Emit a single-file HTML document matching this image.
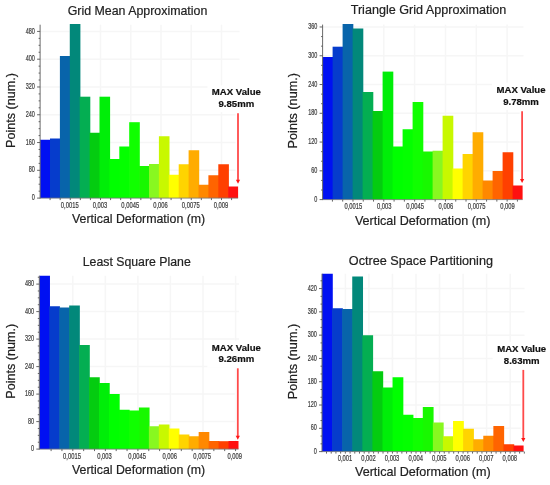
<!DOCTYPE html>
<html><head><meta charset="utf-8"><style>
html,body{margin:0;padding:0;background:#fff;width:550px;height:485px;overflow:hidden}
svg{display:block;filter:blur(0.35px)}
text{font-family:"Liberation Sans", sans-serif}
.gr{stroke:#f6f6f6;stroke-width:1.5}
.ax{stroke:#6a6a6a;stroke-width:1}
.tk{stroke:#555;stroke-width:0.9}
.tl{font-size:7.6px;fill:#333;stroke:#555;stroke-width:0.25}
.xt{font-size:8.3px}
.yt{font-size:8.2px}
.tt{font-size:12.2px;fill:#222;stroke:#222;stroke-width:0.2}
.xl{font-size:12.3px;fill:#222;stroke:#222;stroke-width:0.2}
.mv{font-size:9.6px;font-weight:bold;fill:#111;stroke:#111;stroke-width:0.2}
.ar{stroke:#ff4a4a;stroke-width:1.8}
</style></head><body>
<svg width="550" height="485" viewBox="0 0 550 485">
<line x1="40.1" y1="170.32" x2="239.5" y2="170.32" class="gr"/>
<line x1="40.1" y1="142.54" x2="239.5" y2="142.54" class="gr"/>
<line x1="40.1" y1="114.76" x2="239.5" y2="114.76" class="gr"/>
<line x1="40.1" y1="86.98" x2="239.5" y2="86.98" class="gr"/>
<line x1="40.1" y1="59.2" x2="239.5" y2="59.2" class="gr"/>
<line x1="40.1" y1="31.42" x2="239.5" y2="31.42" class="gr"/>
<line x1="70.25" y1="24.7" x2="70.25" y2="198.1" class="gr"/>
<line x1="100.5" y1="24.7" x2="100.5" y2="198.1" class="gr"/>
<line x1="130.75" y1="24.7" x2="130.75" y2="198.1" class="gr"/>
<line x1="161" y1="24.7" x2="161" y2="198.1" class="gr"/>
<line x1="191.25" y1="24.7" x2="191.25" y2="198.1" class="gr"/>
<line x1="221.5" y1="24.7" x2="221.5" y2="198.1" class="gr"/>
<rect x="207.4" y="85.3" width="34.1" height="26.8" fill="#fff"/>
<line x1="238" y1="112.3" x2="238" y2="183.8" stroke="#fff" stroke-width="5"/>
<rect x="40.1" y="139.75" width="10.6" height="58.35" fill="#0010f2"/>
<rect x="50" y="138.5" width="10.6" height="59.6" fill="#063ccc"/>
<rect x="59.9" y="56" width="10.6" height="142.1" fill="#0864aa"/>
<rect x="69.8" y="24" width="10.6" height="174.1" fill="#02887a"/>
<rect x="79.7" y="96.7" width="10.6" height="101.4" fill="#04ae52"/>
<rect x="89.6" y="132.75" width="10.6" height="65.35" fill="#04cc10"/>
<rect x="99.5" y="96.7" width="10.6" height="101.4" fill="#00ee08"/>
<rect x="109.4" y="159" width="10.6" height="39.1" fill="#00ff00"/>
<rect x="119.3" y="146.5" width="10.6" height="51.6" fill="#04ff00"/>
<rect x="129.2" y="122.2" width="10.6" height="75.9" fill="#10ff00"/>
<rect x="139.1" y="166" width="10.6" height="32.1" fill="#18f800"/>
<rect x="149" y="164" width="10.6" height="34.1" fill="#88f820"/>
<rect x="158.9" y="136.25" width="10.6" height="61.85" fill="#c8f800"/>
<rect x="168.8" y="174.75" width="10.6" height="23.35" fill="#ffff00"/>
<rect x="178.7" y="164.25" width="10.6" height="33.85" fill="#ffd400"/>
<rect x="188.6" y="150.25" width="10.6" height="47.85" fill="#ffac00"/>
<rect x="198.5" y="184.75" width="10.6" height="13.35" fill="#ff8800"/>
<rect x="208.4" y="175.25" width="10.6" height="22.85" fill="#ff6400"/>
<rect x="218.3" y="164.25" width="10.6" height="33.85" fill="#ff4000"/>
<rect x="228.2" y="186.5" width="9.9" height="11.6" fill="#ff1010"/>
<line x1="40.1" y1="198.1" x2="238.1" y2="198.1" stroke="#777" stroke-width="0.8"/>
<line x1="40.1" y1="24.7" x2="40.1" y2="198.6" class="ax"/>
<line x1="37.1" y1="198.1" x2="40.1" y2="198.1" class="tk"/>
<line x1="38.6" y1="191.16" x2="40.1" y2="191.16" class="tk"/>
<line x1="38.6" y1="184.21" x2="40.1" y2="184.21" class="tk"/>
<line x1="38.6" y1="177.26" x2="40.1" y2="177.26" class="tk"/>
<line x1="37.1" y1="170.32" x2="40.1" y2="170.32" class="tk"/>
<line x1="38.6" y1="163.38" x2="40.1" y2="163.38" class="tk"/>
<line x1="38.6" y1="156.43" x2="40.1" y2="156.43" class="tk"/>
<line x1="38.6" y1="149.48" x2="40.1" y2="149.48" class="tk"/>
<line x1="37.1" y1="142.54" x2="40.1" y2="142.54" class="tk"/>
<line x1="38.6" y1="135.59" x2="40.1" y2="135.59" class="tk"/>
<line x1="38.6" y1="128.65" x2="40.1" y2="128.65" class="tk"/>
<line x1="38.6" y1="121.7" x2="40.1" y2="121.7" class="tk"/>
<line x1="37.1" y1="114.76" x2="40.1" y2="114.76" class="tk"/>
<line x1="38.6" y1="107.81" x2="40.1" y2="107.81" class="tk"/>
<line x1="38.6" y1="100.87" x2="40.1" y2="100.87" class="tk"/>
<line x1="38.6" y1="93.92" x2="40.1" y2="93.92" class="tk"/>
<line x1="37.1" y1="86.98" x2="40.1" y2="86.98" class="tk"/>
<line x1="38.6" y1="80.03" x2="40.1" y2="80.03" class="tk"/>
<line x1="38.6" y1="73.09" x2="40.1" y2="73.09" class="tk"/>
<line x1="38.6" y1="66.14" x2="40.1" y2="66.14" class="tk"/>
<line x1="37.1" y1="59.2" x2="40.1" y2="59.2" class="tk"/>
<line x1="38.6" y1="52.25" x2="40.1" y2="52.25" class="tk"/>
<line x1="38.6" y1="45.31" x2="40.1" y2="45.31" class="tk"/>
<line x1="38.6" y1="38.36" x2="40.1" y2="38.36" class="tk"/>
<line x1="37.1" y1="31.42" x2="40.1" y2="31.42" class="tk"/>
<text x="34.9" y="200.2" class="tl yt" text-anchor="end" transform="translate(34.9 0) scale(0.67 1) translate(-34.9 0)">0</text>
<text x="34.9" y="172.42" class="tl yt" text-anchor="end" transform="translate(34.9 0) scale(0.67 1) translate(-34.9 0)">80</text>
<text x="34.9" y="144.64" class="tl yt" text-anchor="end" transform="translate(34.9 0) scale(0.67 1) translate(-34.9 0)">160</text>
<text x="34.9" y="116.86" class="tl yt" text-anchor="end" transform="translate(34.9 0) scale(0.67 1) translate(-34.9 0)">240</text>
<text x="34.9" y="89.08" class="tl yt" text-anchor="end" transform="translate(34.9 0) scale(0.67 1) translate(-34.9 0)">320</text>
<text x="34.9" y="61.3" class="tl yt" text-anchor="end" transform="translate(34.9 0) scale(0.67 1) translate(-34.9 0)">400</text>
<text x="34.9" y="33.52" class="tl yt" text-anchor="end" transform="translate(34.9 0) scale(0.67 1) translate(-34.9 0)">480</text>
<line x1="50.08" y1="198.1" x2="50.08" y2="200.1" class="tk"/>
<line x1="60.17" y1="198.1" x2="60.17" y2="200.1" class="tk"/>
<line x1="70.25" y1="198.1" x2="70.25" y2="200.1" class="tk"/>
<line x1="80.33" y1="198.1" x2="80.33" y2="200.1" class="tk"/>
<line x1="90.42" y1="198.1" x2="90.42" y2="200.1" class="tk"/>
<line x1="100.5" y1="198.1" x2="100.5" y2="200.1" class="tk"/>
<line x1="110.58" y1="198.1" x2="110.58" y2="200.1" class="tk"/>
<line x1="120.67" y1="198.1" x2="120.67" y2="200.1" class="tk"/>
<line x1="130.75" y1="198.1" x2="130.75" y2="200.1" class="tk"/>
<line x1="140.83" y1="198.1" x2="140.83" y2="200.1" class="tk"/>
<line x1="150.92" y1="198.1" x2="150.92" y2="200.1" class="tk"/>
<line x1="161" y1="198.1" x2="161" y2="200.1" class="tk"/>
<line x1="171.08" y1="198.1" x2="171.08" y2="200.1" class="tk"/>
<line x1="181.17" y1="198.1" x2="181.17" y2="200.1" class="tk"/>
<line x1="191.25" y1="198.1" x2="191.25" y2="200.1" class="tk"/>
<line x1="201.33" y1="198.1" x2="201.33" y2="200.1" class="tk"/>
<line x1="211.42" y1="198.1" x2="211.42" y2="200.1" class="tk"/>
<line x1="221.5" y1="198.1" x2="221.5" y2="200.1" class="tk"/>
<line x1="231.58" y1="198.1" x2="231.58" y2="200.1" class="tk"/>
<text x="69.75" y="207.6" class="tl xt" text-anchor="middle" transform="translate(69.75 0) scale(0.7 1) translate(-69.75 0)">0,0015</text>
<text x="100" y="207.6" class="tl xt" text-anchor="middle" transform="translate(100 0) scale(0.7 1) translate(-100 0)">0,003</text>
<text x="130.25" y="207.6" class="tl xt" text-anchor="middle" transform="translate(130.25 0) scale(0.7 1) translate(-130.25 0)">0,0045</text>
<text x="160.5" y="207.6" class="tl xt" text-anchor="middle" transform="translate(160.5 0) scale(0.7 1) translate(-160.5 0)">0,006</text>
<text x="190.75" y="207.6" class="tl xt" text-anchor="middle" transform="translate(190.75 0) scale(0.7 1) translate(-190.75 0)">0,0075</text>
<text x="221" y="207.6" class="tl xt" text-anchor="middle" transform="translate(221 0) scale(0.7 1) translate(-221 0)">0,009</text>
<text x="137.5" y="15" class="tt" text-anchor="middle" style="font-size:12.38px">Grid Mean Approximation</text>
<text x="138.6" y="223" class="xl" text-anchor="middle" style="font-size:12.37px">Vertical Deformation (m)</text>
<text x="0" y="0" class="xl" text-anchor="middle" style="font-size:12.6px" transform="translate(14.85 110.5) rotate(-90)">Points (num.)</text>
<text x="236.4" y="95.3" class="mv" text-anchor="middle">MAX Value</text>
<text x="236.4" y="106.9" class="mv" text-anchor="middle">9.85mm</text>
<line x1="238" y1="113.3" x2="238" y2="180.8" class="ar"/>
<path d="M235.9 179.8L240.1 179.8L238 183.8Z" fill="#ff1414"/>
<line x1="322.6" y1="170.83" x2="523.5" y2="170.83" class="gr"/>
<line x1="322.6" y1="142.06" x2="523.5" y2="142.06" class="gr"/>
<line x1="322.6" y1="113.29" x2="523.5" y2="113.29" class="gr"/>
<line x1="322.6" y1="84.52" x2="523.5" y2="84.52" class="gr"/>
<line x1="322.6" y1="55.75" x2="523.5" y2="55.75" class="gr"/>
<line x1="322.6" y1="26.98" x2="523.5" y2="26.98" class="gr"/>
<line x1="352.98" y1="24.6" x2="352.98" y2="199.6" class="gr"/>
<line x1="383.81" y1="24.6" x2="383.81" y2="199.6" class="gr"/>
<line x1="414.64" y1="24.6" x2="414.64" y2="199.6" class="gr"/>
<line x1="445.47" y1="24.6" x2="445.47" y2="199.6" class="gr"/>
<line x1="476.3" y1="24.6" x2="476.3" y2="199.6" class="gr"/>
<line x1="507.13" y1="24.6" x2="507.13" y2="199.6" class="gr"/>
<rect x="492" y="82.6" width="33.5" height="27.3" fill="#fff"/>
<line x1="522.1" y1="110.3" x2="522.1" y2="182.9" stroke="#fff" stroke-width="5"/>
<rect x="322.6" y="57" width="10.7" height="142.6" fill="#0010f2"/>
<rect x="332.6" y="46.7" width="10.7" height="152.9" fill="#063ccc"/>
<rect x="342.6" y="24" width="10.7" height="175.6" fill="#0864aa"/>
<rect x="352.6" y="28.5" width="10.7" height="171.1" fill="#02887a"/>
<rect x="362.6" y="92" width="10.7" height="107.6" fill="#04ae52"/>
<rect x="372.6" y="111" width="10.7" height="88.6" fill="#04cc10"/>
<rect x="382.6" y="71.6" width="10.7" height="128" fill="#00ee08"/>
<rect x="392.6" y="146.5" width="10.7" height="53.1" fill="#00ff00"/>
<rect x="402.6" y="129.25" width="10.7" height="70.35" fill="#04ff00"/>
<rect x="412.6" y="102" width="10.7" height="97.6" fill="#10ff00"/>
<rect x="422.6" y="151.5" width="10.7" height="48.1" fill="#18f800"/>
<rect x="432.6" y="150.75" width="10.7" height="48.85" fill="#88f820"/>
<rect x="442.6" y="115.75" width="10.7" height="83.85" fill="#c8f800"/>
<rect x="452.6" y="168.5" width="10.7" height="31.1" fill="#ffff00"/>
<rect x="462.6" y="154" width="10.7" height="45.6" fill="#ffd400"/>
<rect x="472.6" y="132.25" width="10.7" height="67.35" fill="#ffac00"/>
<rect x="482.6" y="180.5" width="10.7" height="19.1" fill="#ff8800"/>
<rect x="492.6" y="171" width="10.7" height="28.6" fill="#ff6400"/>
<rect x="502.6" y="152.25" width="10.7" height="47.35" fill="#ff4000"/>
<rect x="512.6" y="185.5" width="10" height="14.1" fill="#ff1010"/>
<line x1="322.6" y1="199.6" x2="522.6" y2="199.6" stroke="#777" stroke-width="0.8"/>
<line x1="322.6" y1="24.6" x2="322.6" y2="200.1" class="ax"/>
<line x1="319.6" y1="199.6" x2="322.6" y2="199.6" class="tk"/>
<line x1="321.1" y1="190.01" x2="322.6" y2="190.01" class="tk"/>
<line x1="321.1" y1="180.42" x2="322.6" y2="180.42" class="tk"/>
<line x1="319.6" y1="170.83" x2="322.6" y2="170.83" class="tk"/>
<line x1="321.1" y1="161.24" x2="322.6" y2="161.24" class="tk"/>
<line x1="321.1" y1="151.65" x2="322.6" y2="151.65" class="tk"/>
<line x1="319.6" y1="142.06" x2="322.6" y2="142.06" class="tk"/>
<line x1="321.1" y1="132.47" x2="322.6" y2="132.47" class="tk"/>
<line x1="321.1" y1="122.88" x2="322.6" y2="122.88" class="tk"/>
<line x1="319.6" y1="113.29" x2="322.6" y2="113.29" class="tk"/>
<line x1="321.1" y1="103.7" x2="322.6" y2="103.7" class="tk"/>
<line x1="321.1" y1="94.11" x2="322.6" y2="94.11" class="tk"/>
<line x1="319.6" y1="84.52" x2="322.6" y2="84.52" class="tk"/>
<line x1="321.1" y1="74.93" x2="322.6" y2="74.93" class="tk"/>
<line x1="321.1" y1="65.34" x2="322.6" y2="65.34" class="tk"/>
<line x1="319.6" y1="55.75" x2="322.6" y2="55.75" class="tk"/>
<line x1="321.1" y1="46.16" x2="322.6" y2="46.16" class="tk"/>
<line x1="321.1" y1="36.57" x2="322.6" y2="36.57" class="tk"/>
<line x1="319.6" y1="26.98" x2="322.6" y2="26.98" class="tk"/>
<text x="317.4" y="201.7" class="tl yt" text-anchor="end" transform="translate(317.4 0) scale(0.67 1) translate(-317.4 0)">0</text>
<text x="317.4" y="172.93" class="tl yt" text-anchor="end" transform="translate(317.4 0) scale(0.67 1) translate(-317.4 0)">60</text>
<text x="317.4" y="144.16" class="tl yt" text-anchor="end" transform="translate(317.4 0) scale(0.67 1) translate(-317.4 0)">120</text>
<text x="317.4" y="115.39" class="tl yt" text-anchor="end" transform="translate(317.4 0) scale(0.67 1) translate(-317.4 0)">180</text>
<text x="317.4" y="86.62" class="tl yt" text-anchor="end" transform="translate(317.4 0) scale(0.67 1) translate(-317.4 0)">240</text>
<text x="317.4" y="57.85" class="tl yt" text-anchor="end" transform="translate(317.4 0) scale(0.67 1) translate(-317.4 0)">300</text>
<text x="317.4" y="29.08" class="tl yt" text-anchor="end" transform="translate(317.4 0) scale(0.67 1) translate(-317.4 0)">360</text>
<line x1="332.43" y1="199.6" x2="332.43" y2="201.6" class="tk"/>
<line x1="342.7" y1="199.6" x2="342.7" y2="201.6" class="tk"/>
<line x1="352.98" y1="199.6" x2="352.98" y2="201.6" class="tk"/>
<line x1="363.26" y1="199.6" x2="363.26" y2="201.6" class="tk"/>
<line x1="373.53" y1="199.6" x2="373.53" y2="201.6" class="tk"/>
<line x1="383.81" y1="199.6" x2="383.81" y2="201.6" class="tk"/>
<line x1="394.09" y1="199.6" x2="394.09" y2="201.6" class="tk"/>
<line x1="404.36" y1="199.6" x2="404.36" y2="201.6" class="tk"/>
<line x1="414.64" y1="199.6" x2="414.64" y2="201.6" class="tk"/>
<line x1="424.92" y1="199.6" x2="424.92" y2="201.6" class="tk"/>
<line x1="435.19" y1="199.6" x2="435.19" y2="201.6" class="tk"/>
<line x1="445.47" y1="199.6" x2="445.47" y2="201.6" class="tk"/>
<line x1="455.75" y1="199.6" x2="455.75" y2="201.6" class="tk"/>
<line x1="466.02" y1="199.6" x2="466.02" y2="201.6" class="tk"/>
<line x1="476.3" y1="199.6" x2="476.3" y2="201.6" class="tk"/>
<line x1="486.58" y1="199.6" x2="486.58" y2="201.6" class="tk"/>
<line x1="496.85" y1="199.6" x2="496.85" y2="201.6" class="tk"/>
<line x1="507.13" y1="199.6" x2="507.13" y2="201.6" class="tk"/>
<line x1="517.41" y1="199.6" x2="517.41" y2="201.6" class="tk"/>
<text x="353.38" y="209.5" class="tl xt" text-anchor="middle" transform="translate(353.38 0) scale(0.7 1) translate(-353.38 0)">0,0015</text>
<text x="384.21" y="209.5" class="tl xt" text-anchor="middle" transform="translate(384.21 0) scale(0.7 1) translate(-384.21 0)">0,003</text>
<text x="415.04" y="209.5" class="tl xt" text-anchor="middle" transform="translate(415.04 0) scale(0.7 1) translate(-415.04 0)">0,0045</text>
<text x="445.87" y="209.5" class="tl xt" text-anchor="middle" transform="translate(445.87 0) scale(0.7 1) translate(-445.87 0)">0,006</text>
<text x="476.7" y="209.5" class="tl xt" text-anchor="middle" transform="translate(476.7 0) scale(0.7 1) translate(-476.7 0)">0,0075</text>
<text x="507.53" y="209.5" class="tl xt" text-anchor="middle" transform="translate(507.53 0) scale(0.7 1) translate(-507.53 0)">0,009</text>
<text x="428.5" y="14" class="tt" text-anchor="middle" style="font-size:12.6px">Triangle Grid Approximation</text>
<text x="422.7" y="225" class="xl" text-anchor="middle" style="font-size:12.58px">Vertical Deformation (m)</text>
<text x="0" y="0" class="xl" text-anchor="middle" style="font-size:12.7px" transform="translate(296.7 110.7) rotate(-90)">Points (num.)</text>
<text x="521" y="92.6" class="mv" text-anchor="middle">MAX Value</text>
<text x="521" y="104.7" class="mv" text-anchor="middle">9.78mm</text>
<line x1="522.1" y1="111.3" x2="522.1" y2="179.9" class="ar"/>
<path d="M520 178.9L524.2 178.9L522.1 182.9Z" fill="#ff1414"/>
<line x1="39.3" y1="421.6" x2="239" y2="421.6" class="gr"/>
<line x1="39.3" y1="394.1" x2="239" y2="394.1" class="gr"/>
<line x1="39.3" y1="366.6" x2="239" y2="366.6" class="gr"/>
<line x1="39.3" y1="339.1" x2="239" y2="339.1" class="gr"/>
<line x1="39.3" y1="311.6" x2="239" y2="311.6" class="gr"/>
<line x1="39.3" y1="284.1" x2="239" y2="284.1" class="gr"/>
<line x1="72.8" y1="275.75" x2="72.8" y2="449.1" class="gr"/>
<line x1="105.35" y1="275.75" x2="105.35" y2="449.1" class="gr"/>
<line x1="137.9" y1="275.75" x2="137.9" y2="449.1" class="gr"/>
<line x1="170.45" y1="275.75" x2="170.45" y2="449.1" class="gr"/>
<line x1="203" y1="275.75" x2="203" y2="449.1" class="gr"/>
<line x1="235.55" y1="275.75" x2="235.55" y2="449.1" class="gr"/>
<rect x="207.4" y="340.7" width="33.6" height="26.7" fill="#fff"/>
<line x1="237.8" y1="367.3" x2="237.8" y2="439.7" stroke="#fff" stroke-width="5"/>
<rect x="39.3" y="275.75" width="10.66" height="173.35" fill="#0010f2"/>
<rect x="49.26" y="306.25" width="10.66" height="142.85" fill="#063ccc"/>
<rect x="59.22" y="307.5" width="10.66" height="141.6" fill="#0864aa"/>
<rect x="69.18" y="305.5" width="10.66" height="143.6" fill="#02887a"/>
<rect x="79.14" y="345" width="10.66" height="104.1" fill="#04ae52"/>
<rect x="89.1" y="377.25" width="10.66" height="71.85" fill="#04cc10"/>
<rect x="99.06" y="383" width="10.66" height="66.1" fill="#00ee08"/>
<rect x="109.02" y="394" width="10.66" height="55.1" fill="#00ff00"/>
<rect x="118.98" y="409.75" width="10.66" height="39.35" fill="#04ff00"/>
<rect x="128.94" y="410.5" width="10.66" height="38.6" fill="#10ff00"/>
<rect x="138.9" y="407.5" width="10.66" height="41.6" fill="#18f800"/>
<rect x="148.86" y="426.25" width="10.66" height="22.85" fill="#88f820"/>
<rect x="158.82" y="424.5" width="10.66" height="24.6" fill="#c8f800"/>
<rect x="168.78" y="428.5" width="10.66" height="20.6" fill="#ffff00"/>
<rect x="178.74" y="434.5" width="10.66" height="14.6" fill="#ffd400"/>
<rect x="188.7" y="436.25" width="10.66" height="12.85" fill="#ffac00"/>
<rect x="198.66" y="432" width="10.66" height="17.1" fill="#ff8800"/>
<rect x="208.62" y="441" width="10.66" height="8.1" fill="#ff6400"/>
<rect x="218.58" y="441.2" width="10.66" height="7.9" fill="#ff4000"/>
<rect x="228.54" y="441" width="9.96" height="8.1" fill="#ff1010"/>
<line x1="39.3" y1="449.1" x2="238.5" y2="449.1" stroke="#777" stroke-width="0.8"/>
<line x1="39.3" y1="275.75" x2="39.3" y2="449.6" class="ax"/>
<line x1="36.3" y1="449.1" x2="39.3" y2="449.1" class="tk"/>
<line x1="37.8" y1="442.23" x2="39.3" y2="442.23" class="tk"/>
<line x1="37.8" y1="435.35" x2="39.3" y2="435.35" class="tk"/>
<line x1="37.8" y1="428.48" x2="39.3" y2="428.48" class="tk"/>
<line x1="36.3" y1="421.6" x2="39.3" y2="421.6" class="tk"/>
<line x1="37.8" y1="414.73" x2="39.3" y2="414.73" class="tk"/>
<line x1="37.8" y1="407.85" x2="39.3" y2="407.85" class="tk"/>
<line x1="37.8" y1="400.98" x2="39.3" y2="400.98" class="tk"/>
<line x1="36.3" y1="394.1" x2="39.3" y2="394.1" class="tk"/>
<line x1="37.8" y1="387.23" x2="39.3" y2="387.23" class="tk"/>
<line x1="37.8" y1="380.35" x2="39.3" y2="380.35" class="tk"/>
<line x1="37.8" y1="373.48" x2="39.3" y2="373.48" class="tk"/>
<line x1="36.3" y1="366.6" x2="39.3" y2="366.6" class="tk"/>
<line x1="37.8" y1="359.73" x2="39.3" y2="359.73" class="tk"/>
<line x1="37.8" y1="352.85" x2="39.3" y2="352.85" class="tk"/>
<line x1="37.8" y1="345.98" x2="39.3" y2="345.98" class="tk"/>
<line x1="36.3" y1="339.1" x2="39.3" y2="339.1" class="tk"/>
<line x1="37.8" y1="332.23" x2="39.3" y2="332.23" class="tk"/>
<line x1="37.8" y1="325.35" x2="39.3" y2="325.35" class="tk"/>
<line x1="37.8" y1="318.48" x2="39.3" y2="318.48" class="tk"/>
<line x1="36.3" y1="311.6" x2="39.3" y2="311.6" class="tk"/>
<line x1="37.8" y1="304.73" x2="39.3" y2="304.73" class="tk"/>
<line x1="37.8" y1="297.85" x2="39.3" y2="297.85" class="tk"/>
<line x1="37.8" y1="290.98" x2="39.3" y2="290.98" class="tk"/>
<line x1="36.3" y1="284.1" x2="39.3" y2="284.1" class="tk"/>
<line x1="37.8" y1="277.23" x2="39.3" y2="277.23" class="tk"/>
<text x="34.1" y="451.2" class="tl yt" text-anchor="end" transform="translate(34.1 0) scale(0.67 1) translate(-34.1 0)">0</text>
<text x="34.1" y="423.7" class="tl yt" text-anchor="end" transform="translate(34.1 0) scale(0.67 1) translate(-34.1 0)">80</text>
<text x="34.1" y="396.2" class="tl yt" text-anchor="end" transform="translate(34.1 0) scale(0.67 1) translate(-34.1 0)">160</text>
<text x="34.1" y="368.7" class="tl yt" text-anchor="end" transform="translate(34.1 0) scale(0.67 1) translate(-34.1 0)">240</text>
<text x="34.1" y="341.2" class="tl yt" text-anchor="end" transform="translate(34.1 0) scale(0.67 1) translate(-34.1 0)">320</text>
<text x="34.1" y="313.7" class="tl yt" text-anchor="end" transform="translate(34.1 0) scale(0.67 1) translate(-34.1 0)">400</text>
<text x="34.1" y="286.2" class="tl yt" text-anchor="end" transform="translate(34.1 0) scale(0.67 1) translate(-34.1 0)">480</text>
<line x1="51.1" y1="449.1" x2="51.1" y2="451.1" class="tk"/>
<line x1="61.95" y1="449.1" x2="61.95" y2="451.1" class="tk"/>
<line x1="72.8" y1="449.1" x2="72.8" y2="451.1" class="tk"/>
<line x1="83.65" y1="449.1" x2="83.65" y2="451.1" class="tk"/>
<line x1="94.5" y1="449.1" x2="94.5" y2="451.1" class="tk"/>
<line x1="105.35" y1="449.1" x2="105.35" y2="451.1" class="tk"/>
<line x1="116.2" y1="449.1" x2="116.2" y2="451.1" class="tk"/>
<line x1="127.05" y1="449.1" x2="127.05" y2="451.1" class="tk"/>
<line x1="137.9" y1="449.1" x2="137.9" y2="451.1" class="tk"/>
<line x1="148.75" y1="449.1" x2="148.75" y2="451.1" class="tk"/>
<line x1="159.6" y1="449.1" x2="159.6" y2="451.1" class="tk"/>
<line x1="170.45" y1="449.1" x2="170.45" y2="451.1" class="tk"/>
<line x1="181.3" y1="449.1" x2="181.3" y2="451.1" class="tk"/>
<line x1="192.15" y1="449.1" x2="192.15" y2="451.1" class="tk"/>
<line x1="203" y1="449.1" x2="203" y2="451.1" class="tk"/>
<line x1="213.85" y1="449.1" x2="213.85" y2="451.1" class="tk"/>
<line x1="224.7" y1="449.1" x2="224.7" y2="451.1" class="tk"/>
<line x1="235.55" y1="449.1" x2="235.55" y2="451.1" class="tk"/>
<text x="72" y="459" class="tl xt" text-anchor="middle" transform="translate(72 0) scale(0.7 1) translate(-72 0)">0,0015</text>
<text x="104.55" y="459" class="tl xt" text-anchor="middle" transform="translate(104.55 0) scale(0.7 1) translate(-104.55 0)">0,003</text>
<text x="137.1" y="459" class="tl xt" text-anchor="middle" transform="translate(137.1 0) scale(0.7 1) translate(-137.1 0)">0,0045</text>
<text x="169.65" y="459" class="tl xt" text-anchor="middle" transform="translate(169.65 0) scale(0.7 1) translate(-169.65 0)">0,006</text>
<text x="202.2" y="459" class="tl xt" text-anchor="middle" transform="translate(202.2 0) scale(0.7 1) translate(-202.2 0)">0,0075</text>
<text x="234.75" y="459" class="tl xt" text-anchor="middle" transform="translate(234.75 0) scale(0.7 1) translate(-234.75 0)">0,009</text>
<text x="136.75" y="265.7" class="tt" text-anchor="middle" style="font-size:12.3px">Least Square Plane</text>
<text x="138.6" y="473.7" class="xl" text-anchor="middle" style="font-size:12.37px">Vertical Deformation (m)</text>
<text x="0" y="0" class="xl" text-anchor="middle" style="font-size:12.6px" transform="translate(14.85 361.2) rotate(-90)">Points (num.)</text>
<text x="236.4" y="350.7" class="mv" text-anchor="middle">MAX Value</text>
<text x="236.4" y="362.2" class="mv" text-anchor="middle">9.26mm</text>
<line x1="237.8" y1="368.3" x2="237.8" y2="436.7" class="ar"/>
<path d="M235.7 435.7L239.9 435.7L237.8 439.7Z" fill="#ff1414"/>
<line x1="322" y1="428.31" x2="524.5" y2="428.31" class="gr"/>
<line x1="322" y1="405.02" x2="524.5" y2="405.02" class="gr"/>
<line x1="322" y1="381.73" x2="524.5" y2="381.73" class="gr"/>
<line x1="322" y1="358.44" x2="524.5" y2="358.44" class="gr"/>
<line x1="322" y1="335.15" x2="524.5" y2="335.15" class="gr"/>
<line x1="322" y1="311.86" x2="524.5" y2="311.86" class="gr"/>
<line x1="322" y1="288.57" x2="524.5" y2="288.57" class="gr"/>
<line x1="345.35" y1="273.75" x2="345.35" y2="451.6" class="gr"/>
<line x1="368.9" y1="273.75" x2="368.9" y2="451.6" class="gr"/>
<line x1="392.45" y1="273.75" x2="392.45" y2="451.6" class="gr"/>
<line x1="416" y1="273.75" x2="416" y2="451.6" class="gr"/>
<line x1="439.55" y1="273.75" x2="439.55" y2="451.6" class="gr"/>
<line x1="463.1" y1="273.75" x2="463.1" y2="451.6" class="gr"/>
<line x1="486.65" y1="273.75" x2="486.65" y2="451.6" class="gr"/>
<line x1="510.2" y1="273.75" x2="510.2" y2="451.6" class="gr"/>
<rect x="492.7" y="341.9" width="33.8" height="26.9" fill="#fff"/>
<line x1="523.3" y1="368.9" x2="523.3" y2="442" stroke="#fff" stroke-width="5"/>
<rect x="322" y="273.75" width="10.78" height="177.85" fill="#0010f2"/>
<rect x="332.08" y="308.25" width="10.78" height="143.35" fill="#063ccc"/>
<rect x="342.16" y="309" width="10.78" height="142.6" fill="#0864aa"/>
<rect x="352.24" y="276.5" width="10.78" height="175.1" fill="#02887a"/>
<rect x="362.32" y="335.25" width="10.78" height="116.35" fill="#04ae52"/>
<rect x="372.4" y="371.25" width="10.78" height="80.35" fill="#04cc10"/>
<rect x="382.48" y="387.5" width="10.78" height="64.1" fill="#00ee08"/>
<rect x="392.56" y="377.25" width="10.78" height="74.35" fill="#00ff00"/>
<rect x="402.64" y="414.75" width="10.78" height="36.85" fill="#04ff00"/>
<rect x="412.72" y="418" width="10.78" height="33.6" fill="#10ff00"/>
<rect x="422.8" y="407" width="10.78" height="44.6" fill="#18f800"/>
<rect x="432.88" y="422.5" width="10.78" height="29.1" fill="#88f820"/>
<rect x="442.96" y="436.25" width="10.78" height="15.35" fill="#c8f800"/>
<rect x="453.04" y="421" width="10.78" height="30.6" fill="#ffff00"/>
<rect x="463.12" y="428.75" width="10.78" height="22.85" fill="#ffd400"/>
<rect x="473.2" y="439.25" width="10.78" height="12.35" fill="#ffac00"/>
<rect x="483.28" y="435.75" width="10.78" height="15.85" fill="#ff8800"/>
<rect x="493.36" y="426" width="10.78" height="25.6" fill="#ff6400"/>
<rect x="503.44" y="444.25" width="10.78" height="7.35" fill="#ff4000"/>
<rect x="513.52" y="445.5" width="10.08" height="6.1" fill="#ff1010"/>
<line x1="322" y1="451.6" x2="523.6" y2="451.6" stroke="#777" stroke-width="0.8"/>
<line x1="322" y1="273.75" x2="322" y2="452.1" class="ax"/>
<line x1="319" y1="451.6" x2="322" y2="451.6" class="tk"/>
<line x1="320.5" y1="443.84" x2="322" y2="443.84" class="tk"/>
<line x1="320.5" y1="436.07" x2="322" y2="436.07" class="tk"/>
<line x1="319" y1="428.31" x2="322" y2="428.31" class="tk"/>
<line x1="320.5" y1="420.55" x2="322" y2="420.55" class="tk"/>
<line x1="320.5" y1="412.78" x2="322" y2="412.78" class="tk"/>
<line x1="319" y1="405.02" x2="322" y2="405.02" class="tk"/>
<line x1="320.5" y1="397.26" x2="322" y2="397.26" class="tk"/>
<line x1="320.5" y1="389.49" x2="322" y2="389.49" class="tk"/>
<line x1="319" y1="381.73" x2="322" y2="381.73" class="tk"/>
<line x1="320.5" y1="373.97" x2="322" y2="373.97" class="tk"/>
<line x1="320.5" y1="366.2" x2="322" y2="366.2" class="tk"/>
<line x1="319" y1="358.44" x2="322" y2="358.44" class="tk"/>
<line x1="320.5" y1="350.68" x2="322" y2="350.68" class="tk"/>
<line x1="320.5" y1="342.91" x2="322" y2="342.91" class="tk"/>
<line x1="319" y1="335.15" x2="322" y2="335.15" class="tk"/>
<line x1="320.5" y1="327.39" x2="322" y2="327.39" class="tk"/>
<line x1="320.5" y1="319.62" x2="322" y2="319.62" class="tk"/>
<line x1="319" y1="311.86" x2="322" y2="311.86" class="tk"/>
<line x1="320.5" y1="304.1" x2="322" y2="304.1" class="tk"/>
<line x1="320.5" y1="296.33" x2="322" y2="296.33" class="tk"/>
<line x1="319" y1="288.57" x2="322" y2="288.57" class="tk"/>
<line x1="320.5" y1="280.81" x2="322" y2="280.81" class="tk"/>
<text x="316.8" y="453.7" class="tl yt" text-anchor="end" transform="translate(316.8 0) scale(0.67 1) translate(-316.8 0)">0</text>
<text x="316.8" y="430.41" class="tl yt" text-anchor="end" transform="translate(316.8 0) scale(0.67 1) translate(-316.8 0)">60</text>
<text x="316.8" y="407.12" class="tl yt" text-anchor="end" transform="translate(316.8 0) scale(0.67 1) translate(-316.8 0)">120</text>
<text x="316.8" y="383.83" class="tl yt" text-anchor="end" transform="translate(316.8 0) scale(0.67 1) translate(-316.8 0)">180</text>
<text x="316.8" y="360.54" class="tl yt" text-anchor="end" transform="translate(316.8 0) scale(0.67 1) translate(-316.8 0)">240</text>
<text x="316.8" y="337.25" class="tl yt" text-anchor="end" transform="translate(316.8 0) scale(0.67 1) translate(-316.8 0)">300</text>
<text x="316.8" y="313.96" class="tl yt" text-anchor="end" transform="translate(316.8 0) scale(0.67 1) translate(-316.8 0)">360</text>
<text x="316.8" y="290.67" class="tl yt" text-anchor="end" transform="translate(316.8 0) scale(0.67 1) translate(-316.8 0)">420</text>
<line x1="326.51" y1="451.6" x2="326.51" y2="453.6" class="tk"/>
<line x1="331.22" y1="451.6" x2="331.22" y2="453.6" class="tk"/>
<line x1="335.93" y1="451.6" x2="335.93" y2="453.6" class="tk"/>
<line x1="340.64" y1="451.6" x2="340.64" y2="453.6" class="tk"/>
<line x1="345.35" y1="451.6" x2="345.35" y2="453.6" class="tk"/>
<line x1="350.06" y1="451.6" x2="350.06" y2="453.6" class="tk"/>
<line x1="354.77" y1="451.6" x2="354.77" y2="453.6" class="tk"/>
<line x1="359.48" y1="451.6" x2="359.48" y2="453.6" class="tk"/>
<line x1="364.19" y1="451.6" x2="364.19" y2="453.6" class="tk"/>
<line x1="368.9" y1="451.6" x2="368.9" y2="453.6" class="tk"/>
<line x1="373.61" y1="451.6" x2="373.61" y2="453.6" class="tk"/>
<line x1="378.32" y1="451.6" x2="378.32" y2="453.6" class="tk"/>
<line x1="383.03" y1="451.6" x2="383.03" y2="453.6" class="tk"/>
<line x1="387.74" y1="451.6" x2="387.74" y2="453.6" class="tk"/>
<line x1="392.45" y1="451.6" x2="392.45" y2="453.6" class="tk"/>
<line x1="397.16" y1="451.6" x2="397.16" y2="453.6" class="tk"/>
<line x1="401.87" y1="451.6" x2="401.87" y2="453.6" class="tk"/>
<line x1="406.58" y1="451.6" x2="406.58" y2="453.6" class="tk"/>
<line x1="411.29" y1="451.6" x2="411.29" y2="453.6" class="tk"/>
<line x1="416" y1="451.6" x2="416" y2="453.6" class="tk"/>
<line x1="420.71" y1="451.6" x2="420.71" y2="453.6" class="tk"/>
<line x1="425.42" y1="451.6" x2="425.42" y2="453.6" class="tk"/>
<line x1="430.13" y1="451.6" x2="430.13" y2="453.6" class="tk"/>
<line x1="434.84" y1="451.6" x2="434.84" y2="453.6" class="tk"/>
<line x1="439.55" y1="451.6" x2="439.55" y2="453.6" class="tk"/>
<line x1="444.26" y1="451.6" x2="444.26" y2="453.6" class="tk"/>
<line x1="448.97" y1="451.6" x2="448.97" y2="453.6" class="tk"/>
<line x1="453.68" y1="451.6" x2="453.68" y2="453.6" class="tk"/>
<line x1="458.39" y1="451.6" x2="458.39" y2="453.6" class="tk"/>
<line x1="463.1" y1="451.6" x2="463.1" y2="453.6" class="tk"/>
<line x1="467.81" y1="451.6" x2="467.81" y2="453.6" class="tk"/>
<line x1="472.52" y1="451.6" x2="472.52" y2="453.6" class="tk"/>
<line x1="477.23" y1="451.6" x2="477.23" y2="453.6" class="tk"/>
<line x1="481.94" y1="451.6" x2="481.94" y2="453.6" class="tk"/>
<line x1="486.65" y1="451.6" x2="486.65" y2="453.6" class="tk"/>
<line x1="491.36" y1="451.6" x2="491.36" y2="453.6" class="tk"/>
<line x1="496.07" y1="451.6" x2="496.07" y2="453.6" class="tk"/>
<line x1="500.78" y1="451.6" x2="500.78" y2="453.6" class="tk"/>
<line x1="505.49" y1="451.6" x2="505.49" y2="453.6" class="tk"/>
<line x1="510.2" y1="451.6" x2="510.2" y2="453.6" class="tk"/>
<line x1="514.91" y1="451.6" x2="514.91" y2="453.6" class="tk"/>
<line x1="519.62" y1="451.6" x2="519.62" y2="453.6" class="tk"/>
<line x1="524.33" y1="451.6" x2="524.33" y2="453.6" class="tk"/>
<text x="345" y="461.2" class="tl xt" text-anchor="middle" transform="translate(345 0) scale(0.7 1) translate(-345 0)">0,001</text>
<text x="368.55" y="461.2" class="tl xt" text-anchor="middle" transform="translate(368.55 0) scale(0.7 1) translate(-368.55 0)">0,002</text>
<text x="392.1" y="461.2" class="tl xt" text-anchor="middle" transform="translate(392.1 0) scale(0.7 1) translate(-392.1 0)">0,003</text>
<text x="415.65" y="461.2" class="tl xt" text-anchor="middle" transform="translate(415.65 0) scale(0.7 1) translate(-415.65 0)">0,004</text>
<text x="439.2" y="461.2" class="tl xt" text-anchor="middle" transform="translate(439.2 0) scale(0.7 1) translate(-439.2 0)">0,005</text>
<text x="462.75" y="461.2" class="tl xt" text-anchor="middle" transform="translate(462.75 0) scale(0.7 1) translate(-462.75 0)">0,006</text>
<text x="486.3" y="461.2" class="tl xt" text-anchor="middle" transform="translate(486.3 0) scale(0.7 1) translate(-486.3 0)">0,007</text>
<text x="509.85" y="461.2" class="tl xt" text-anchor="middle" transform="translate(509.85 0) scale(0.7 1) translate(-509.85 0)">0,008</text>
<text x="420.9" y="264.5" class="tt" text-anchor="middle" style="font-size:12.67px">Octree Space Partitioning</text>
<text x="422.8" y="475.8" class="xl" text-anchor="middle" style="font-size:12.58px">Vertical Deformation (m)</text>
<text x="0" y="0" class="xl" text-anchor="middle" style="font-size:12.7px" transform="translate(296.65 361.5) rotate(-90)">Points (num.)</text>
<text x="521.7" y="351.9" class="mv" text-anchor="middle">MAX Value</text>
<text x="521.7" y="363.6" class="mv" text-anchor="middle">8.63mm</text>
<line x1="523.3" y1="369.9" x2="523.3" y2="439" class="ar"/>
<path d="M521.2 438L525.4 438L523.3 442Z" fill="#ff1414"/>
</svg>
</body></html>
